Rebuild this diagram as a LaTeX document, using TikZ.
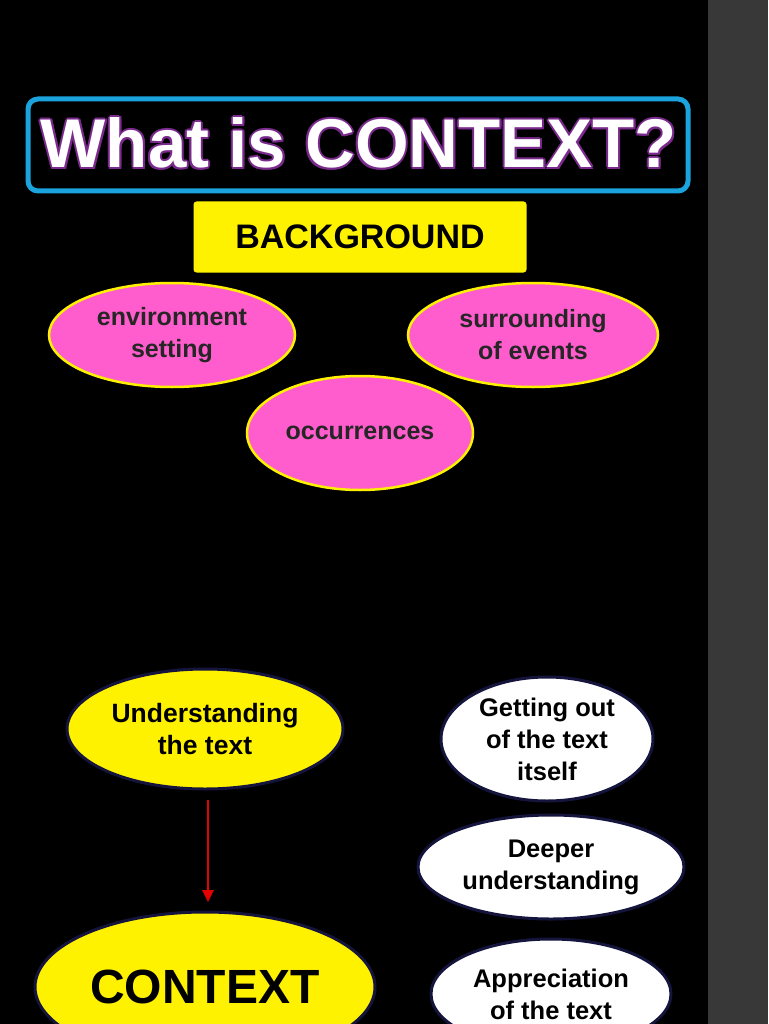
\documentclass[tikz,border=0pt]{standalone}
\usepackage{fontspec}
\setmainfont{Liberation Sans}
\usetikzlibrary{shapes.geometric,arrows.meta}
\definecolor{pinkf}{HTML}{FF5CCD}
\definecolor{ylw}{HTML}{FFF200}
\definecolor{cyanb}{HTML}{1AA3DC}
\definecolor{navy}{HTML}{14143C}
\definecolor{purp}{HTML}{7A2A8C}
\begin{document}
\begin{tikzpicture}[x=1pt,y=-1pt,
 ttl/.style={font=\fontsize{69}{72}\bfseries},
 pinkel/.style={ellipse,draw=ylw,line width=2.5pt,fill=pinkf,align=center,font=\fontsize{25}{32}\bfseries,text=black!85,inner sep=0pt},
 darkel/.style={ellipse,draw=navy,line width=3pt,align=center,font=\fontsize{25.5}{32}\bfseries,text=black,inner sep=0pt}]
\useasboundingbox (0,0) rectangle (768,1024);
\clip (0,0) rectangle (768,1024);
\fill[black] (0,0) rectangle (708,1024);
\fill[black!78] (708,0) rectangle (768,1024);
\node[draw=cyanb,line width=5pt,rounded corners=10pt,minimum width=660pt,minimum height=92pt] (title) at (358,145) {};
\foreach \dx/\dy in {-2/0,2/0,0/-2,0/2,-1.5/-1.5,1.5/1.5,-1.5/1.5,1.5/-1.5}
  \node[ttl,text=purp] at (359+\dx,143+\dy) {What is CONTEXT?};
\node[ttl,text=white] (tt) at (359,143) {What is CONTEXT?};
\node[fill=ylw,rounded corners=3pt,minimum width=333pt,minimum height=71pt,font=\fontsize{34}{38}\bfseries] (bg) at (360,237) {BACKGROUND};
\node[pinkel,minimum width=246pt,minimum height=104pt] (env) at (172,335) {environment\\setting};
\node[pinkel,minimum width=250pt,minimum height=104pt] (sur) at (533,335) {surrounding\\of events};
\node[pinkel,minimum width=226pt,minimum height=114pt] (occ) at (360,433) {occurrences};
\node[darkel,fill=ylw,minimum width=276pt,minimum height=120pt,font=\fontsize{26.5}{32}\bfseries] (und) at (205,729) {Understanding\\the text};
\node[darkel,fill=ylw,minimum width=340pt,minimum height=150pt,font=\fontsize{48}{50}\bfseries] (ctx) at (205,987) {CONTEXT};
\draw[red!90!black,line width=2.5pt,-{Triangle[length=12pt,width=11pt]}] (208,800) coordinate (a0) -- (208,902) coordinate (a1);
\node[darkel,fill=white,minimum width=212pt,minimum height=124pt] (get) at (547,739) {Getting out\\of the text\\itself};
\node[darkel,fill=white,minimum width=266pt,minimum height=104pt] (dee) at (551,867) {Deeper\\understanding};
\node[darkel,fill=white,minimum width=240pt,minimum height=110pt] (app) at (551,994) {Appreciation\\of the text};
\end{tikzpicture}
\end{document}
